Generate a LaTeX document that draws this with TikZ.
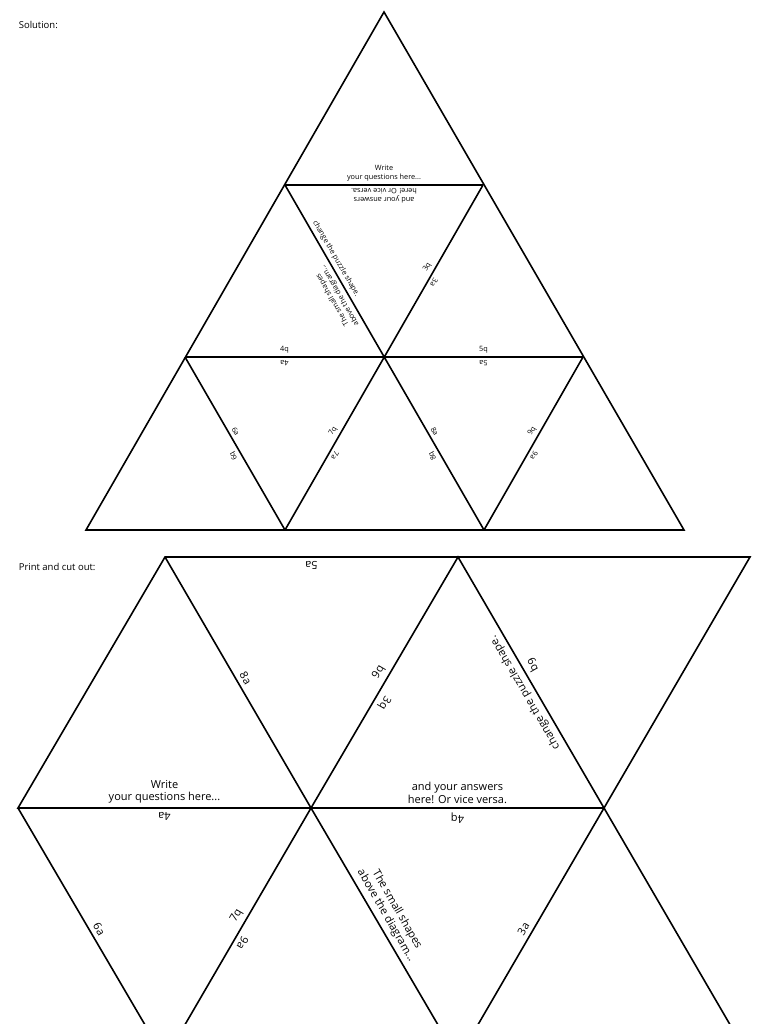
\documentclass[tikz,border=0pt]{standalone}
\usepackage{fontspec}
\setmainfont{Open Sans}
\begin{document}
\begin{tikzpicture}[x=1pt,y=-1pt,line width=1.6pt,line join=miter,
  small/.style={font=\fontsize{7.3}{8.5}\selectfont, inner sep=3pt, align=center},
  big/.style={font=\fontsize{11}{12.5}\selectfont, inner sep=4pt, align=center},
  heading/.style={font=\fontsize{9.5}{11}\selectfont, anchor=west, inner sep=0pt}]
\useasboundingbox (0,0) rectangle (768,1024);
\clip (0,0) rectangle (768,1024);
\node[heading] (sol) at (18,25) {Solution:};
\node[heading] (cut) at (18,567) {Print and cut out:};
% solution triangle
\coordinate (a) at (384,12);
\coordinate (b1) at (285,185); \coordinate (b2) at (483,185);
\coordinate (c1) at (185,357); \coordinate (c2) at (384,357); \coordinate (c3) at (583,357);
\coordinate (d1) at (86,530); \coordinate (d2) at (285,530); \coordinate (d3) at (484,530); \coordinate (d4) at (684,530);
\draw (a) -- (d1) -- (d4) -- cycle;
\draw (b1) -- (b2) (c1) -- (c3);
\draw (b1) -- (d3) (b2) -- (d2);
\draw (c1) -- (d2) (c3) -- (d3);
\path (b1) -- (b2) node[midway,anchor=south,small] {Write\\your questions here...};
\path (b1) -- (b2) node[midway,anchor=south,rotate=180,small] {and your answers\\here! Or vice versa.};
\path (b1) -- (c2) node[pos=0.45,anchor=south,rotate=-60,small] {change the puzzle shape.};
\path (b1) -- (c2) node[pos=0.62,anchor=south,rotate=120,small] {The small shapes\\above the diagram...};
\path (c2) -- (b2) node[midway,anchor=south,rotate=60,small] {3q};
\path (c2) -- (b2) node[pos=0.45,anchor=south,rotate=-120,small] {3a};
\path (c1) -- (c2) node[midway,anchor=south,small] {4q};
\path (c1) -- (c2) node[midway,anchor=south,rotate=180,small] {4a};
\path (c2) -- (c3) node[midway,anchor=south,small] {5q};
\path (c2) -- (c3) node[midway,anchor=south,rotate=180,small] {5a};
\path (c1) -- (d2) node[pos=0.55,anchor=south,rotate=120,small] {6q};
\path (c1) -- (d2) node[pos=0.45,anchor=south,rotate=-60,small] {6a};
\path (d2) -- (c2) node[pos=0.55,anchor=south,rotate=60,small] {7q};
\path (d2) -- (c2) node[pos=0.45,anchor=south,rotate=-120,small] {7a};
\path (c2) -- (d3) node[pos=0.55,anchor=south,rotate=120,small] {8q};
\path (c2) -- (d3) node[pos=0.45,anchor=south,rotate=-60,small] {8a};
\path (d3) -- (c3) node[pos=0.55,anchor=south,rotate=60,small] {9q};
\path (d3) -- (c3) node[pos=0.45,anchor=south,rotate=-120,small] {9a};
% cut-out pieces
\coordinate (p1) at (165,557); \coordinate (p2) at (458,557); \coordinate (p3) at (750,557);
\coordinate (q1) at (18,808); \coordinate (q2) at (311,808); \coordinate (q3) at (604,808);
\coordinate (r1) at (165,1059); \coordinate (r2) at (458,1059); \coordinate (r3) at (750,1059);
\draw (q1) -- (p1) -- (p3) -- (q3) -- cycle;
\draw (p1) -- (q2) -- (p2) -- (q3);
\draw (q1) -- (r1) -- (q2) -- (r2) -- (q3) -- (r3);
\path (q1) -- (q2) node[midway,anchor=south,big] {Write\\your questions here...};
\path (q1) -- (q2) node[midway,anchor=south,rotate=180,big] {4a};
\path (p1) -- (p2) node[midway,anchor=south,rotate=180,big] {5a};
\path (p1) -- (q2) node[midway,anchor=south,rotate=-60,big] {8a};
\path (q2) -- (p2) node[pos=0.52,anchor=south,rotate=60,big] {9q};
\path (q2) -- (p2) node[pos=0.44,anchor=south,rotate=-120,big] {3q};
\path (q2) -- (q3) node[midway,anchor=south,big] {and your answers\\here! Or vice versa.};
\path (q2) -- (q3) node[midway,anchor=south,rotate=180,big] {4q};
\path (p2) -- (q3) node[pos=0.52,anchor=south,rotate=120,big] {change the puzzle shape.};
\path (p2) -- (q3) node[pos=0.45,anchor=south,rotate=-60,big] {6q};
\path (q1) -- (r1) node[midway,anchor=south,rotate=-60,big] {6a};
\path (r1) -- (q2) node[pos=0.55,anchor=south,rotate=60,big] {7q};
\path (r1) -- (q2) node[pos=0.48,anchor=south,rotate=-120,big] {9a};
\path (q2) -- (r2) node[pos=0.45,anchor=south,rotate=-60,big] {The small shapes\\above the diagram...};
\path (r2) -- (q3) node[midway,anchor=south,rotate=60,big] {3a};
\end{tikzpicture}
\end{document}
